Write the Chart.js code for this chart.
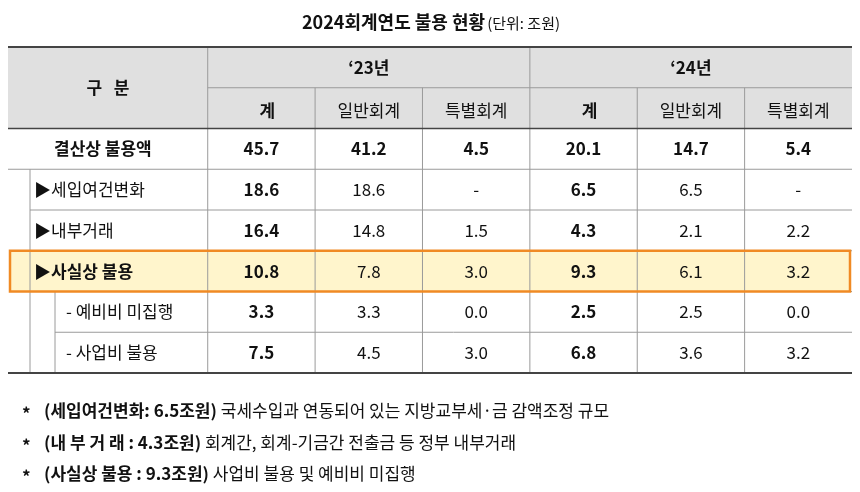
<!DOCTYPE html>
<html><head><meta charset="utf-8">
<script src="https://cdn.jsdelivr.net/npm/chart.js@4/dist/chart.umd.min.js"></script>
<style>html,body{margin:0;background:#fff}#w{width:860px;height:492px}</style>
</head><body><div id="w"><canvas id="c"></canvas></div>
<script>
const title = "2024회계연도 불용 현황";
const unit = "(단위: 조원)";
const years = ["‘23년", "‘24년"];
const subCols = ["계", "일반회계", "특별회계", "계", "일반회계", "특별회계"];
const rowLabels = ["결산상 불용액", "▶세입여건변화", "▶내부거래", "▶사실상 불용", "- 예비비 미집행", "- 사업비 불용"];
const v23total = ["45.7", "18.6", "16.4", "10.8", "3.3", "7.5"];
const v23gen = ["41.2", "18.6", "14.8", "7.8", "3.3", "4.5"];
const v23spec = ["4.5", "-", "1.5", "3.0", "0.0", "3.0"];
const v24total = ["20.1", "6.5", "4.3", "9.3", "2.5", "6.8"];
const v24gen = ["14.7", "6.5", "2.1", "6.1", "2.5", "3.6"];
const v24spec = ["5.4", "-", "2.2", "3.2", "0.0", "3.2"];
const notes = [
  ["(세입여건변화: 6.5조원)", " 국세수입과 연동되어 있는 지방교부세·금 감액조정 규모"],
  ["(내 부 거 래 : 4.3조원)", " 회계간, 회계-기금간 전출금 등 정부 내부거래"],
  ["(사실상 불용 : 9.3조원)", " 사업비 불용 및 예비비 미집행"]
];
const cols = [v23total, v23gen, v23spec, v24total, v24gen, v24spec];
const F = '"Noto Sans CJK KR", "Noto Sans", sans-serif';
const LW = 1.86;

const tablePlugin = {
  id: 'table',
  afterDraw(ch) {
    const c = ch.ctx, X = ch.scales.x, Y = ch.scales.y;
    const px = v => X.getPixelForValue(v), py = v => Y.getPixelForValue(v);
    const L = px(0), R = px(LW + 6);
    c.save();
    c.fillStyle = '#111'; c.textBaseline = 'middle';
    c.font = 'bold 18px ' + F;
    const tw = c.measureText(title).width;
    c.font = '15px ' + F; const uw = c.measureText(unit).width;
    const sx = 430 - (tw + uw) / 2;
    c.font = 'bold 18px ' + F; c.textAlign = 'left'; c.fillText(title, sx, 22);
    c.font = '15px ' + F; c.fillText(unit, sx + tw + 2, 23);
    c.fillStyle = '#e0e0e0'; c.fillRect(L, py(0), R - L, py(2) - py(0));
    c.fillStyle = '#fff5cc'; c.fillRect(L + 2, py(5), R - L - 4, py(6) - py(5));
    c.strokeStyle = '#9a9a9a'; c.lineWidth = 1;
    const line = (x1, y1, x2, y2) => { c.beginPath(); c.moveTo(x1, y1); c.lineTo(x2, y2); c.stroke(); };
    line(px(LW), py(1), R, py(1));
    for (let i = 0; i <= 6; i++) {
      const x = px(LW + i);
      if (i === 0 || i === 3) line(x, py(0), x, py(8));
      else if (i < 6) line(x, py(1), x, py(8));
    }
    const i1 = L + 22, i2 = L + 47;
    line(i1, py(3), i1, py(8));
    line(i2, py(6), i2, py(8));
    line(L, py(3), R, py(3));
    for (let r = 4; r <= 6; r++) line(i1, py(r), R, py(r));
    line(i2, py(7), R, py(7));
    c.strokeStyle = '#444'; c.lineWidth = 2;
    line(L, py(0), R, py(0)); line(L, py(8), R, py(8));
    c.lineWidth = 1.5; line(L, py(2), R, py(2));
    c.strokeStyle = '#f08a24'; c.lineWidth = 2.5;
    c.strokeRect(L + 2, py(5), R - L - 4, py(6) - py(5));
    c.fillStyle = '#111'; c.textAlign = 'center';
    c.font = 'bold 17px ' + F; c.fillText('구   분', px(LW / 2), py(1));
    c.fillText(years[0], px(LW + 1.5), py(0.5)); c.fillText(years[1], px(LW + 4.5), py(0.5));
    subCols.forEach((s, i) => {
      c.font = (i % 3 === 0 ? 'bold 17px ' : '17px ') + F;
      c.fillText(s, px(LW + i + 0.5) + (i % 3 === 0 ? 6 : 0), py(1.55));
    });
    rowLabels.forEach((lab, r) => {
      const y = py(r + 2.5);
      const b = r === 0 || r === 3;
      c.font = (b ? 'bold 17px ' : '17px ') + F;
      if (r === 0) { c.textAlign = 'center'; c.fillText(lab, px(LW / 2) - 5, y); }
      else { c.textAlign = 'left'; c.fillText(lab, r >= 4 ? L + 58 : L + 26, y); }
      c.textAlign = 'center';
      cols.forEach((col, i) => {
        c.font = ((r === 0 || i % 3 === 0) ? 'bold 17px ' : '17px ') + F;
        c.fillText(col[r], px(LW + i + 0.5), y);
      });
    });
    c.textAlign = 'left';
    notes.forEach((n, k) => {
      const y = 411 + k * 31.5;
      c.font = 'bold 17px ' + F; c.fillText('*', 22, y + 3);
      c.fillText(n[0], 44, y);
      const w = c.measureText(n[0]).width;
      c.font = '17px ' + F; c.fillText(n[1], 44 + w, y);
    });
    c.restore();
  }
};

new Chart(document.getElementById('c'), {
  type: 'scatter',
  data: { datasets: [{ data: [] }] },
  options: {
    responsive: true, maintainAspectRatio: false, animation: false,
    layout: { padding: { left: 8, right: 8, top: 47, bottom: 119 } },
    plugins: { legend: { display: false }, tooltip: { enabled: false } },
    scales: {
      x: { type: 'linear', display: false, min: 0, max: LW + 6 },
      y: { type: 'linear', display: false, min: 0, max: 8, reverse: true }
    }
  },
  plugins: [tablePlugin]
});
</script></body></html>
